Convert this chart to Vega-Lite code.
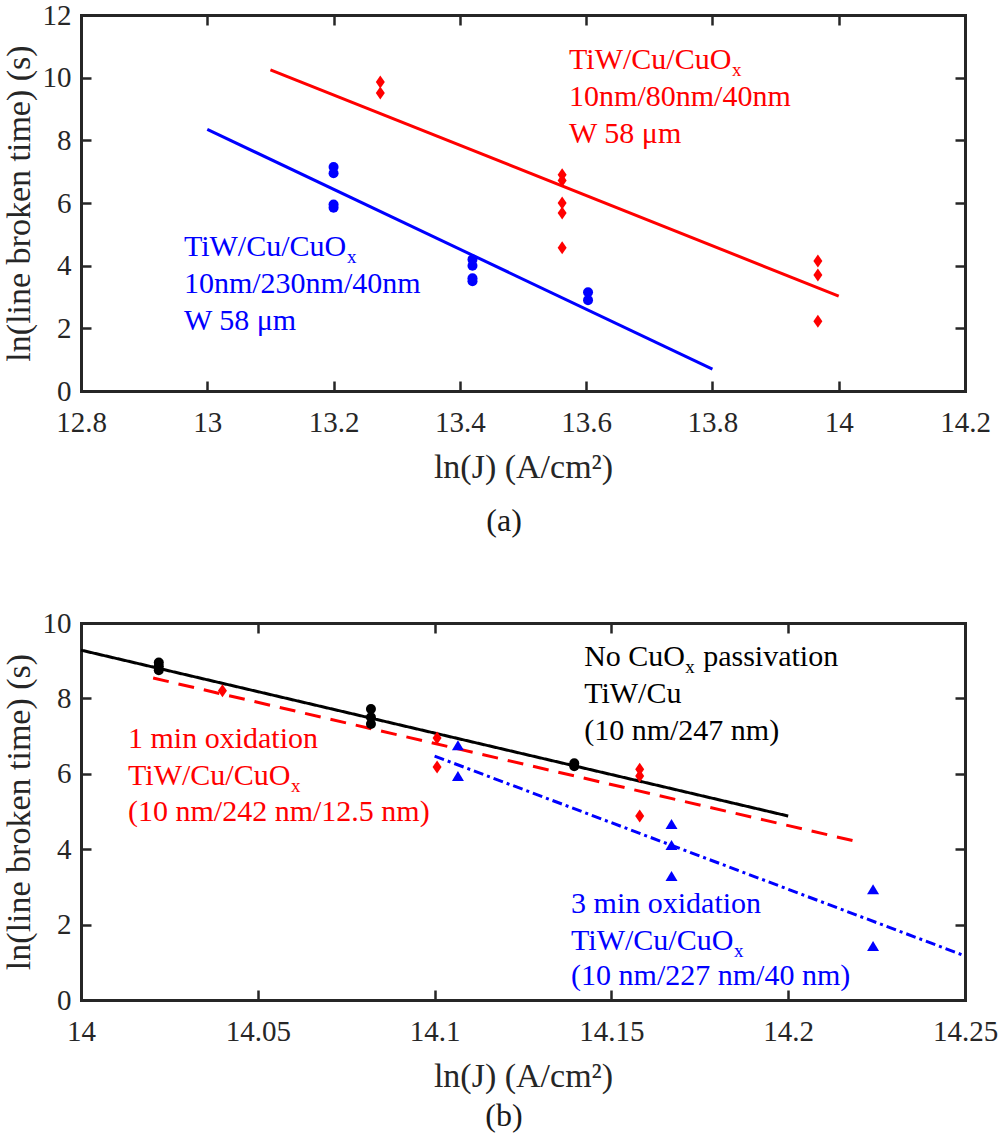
{
  "$schema": "https://vega.github.io/schema/vega-lite/v6.json",
  "padding": {"left": 2, "top": 1, "right": 5, "bottom": 5},
  "background": "white",
  "bounds": "flush",
  "spacing": 232,
  "resolve": {"scale": {"color": "independent", "shape": "independent", "strokeDash": "independent"}},
  "datasets": {
    "ptsA": [
      {"lnJ": 13.274, "lnT": 9.86, "film": "Cu 80 nm"},
      {"lnJ": 13.274, "lnT": 9.51, "film": "Cu 80 nm"},
      {"lnJ": 13.562, "lnT": 6.9, "film": "Cu 80 nm"},
      {"lnJ": 13.562, "lnT": 6.72, "film": "Cu 80 nm"},
      {"lnJ": 13.562, "lnT": 6.0, "film": "Cu 80 nm"},
      {"lnJ": 13.562, "lnT": 5.68, "film": "Cu 80 nm"},
      {"lnJ": 13.562, "lnT": 4.57, "film": "Cu 80 nm"},
      {"lnJ": 13.967, "lnT": 4.15, "film": "Cu 80 nm"},
      {"lnJ": 13.967, "lnT": 3.7, "film": "Cu 80 nm"},
      {"lnJ": 13.967, "lnT": 2.23, "film": "Cu 80 nm"},
      {"lnJ": 13.2, "lnT": 7.15, "film": "Cu 230 nm"},
      {"lnJ": 13.2, "lnT": 6.95, "film": "Cu 230 nm"},
      {"lnJ": 13.2, "lnT": 5.95, "film": "Cu 230 nm"},
      {"lnJ": 13.2, "lnT": 5.85, "film": "Cu 230 nm"},
      {"lnJ": 13.42, "lnT": 4.2, "film": "Cu 230 nm"},
      {"lnJ": 13.42, "lnT": 4.0, "film": "Cu 230 nm"},
      {"lnJ": 13.42, "lnT": 3.6, "film": "Cu 230 nm"},
      {"lnJ": 13.42, "lnT": 3.5, "film": "Cu 230 nm"},
      {"lnJ": 13.603, "lnT": 3.15, "film": "Cu 230 nm"},
      {"lnJ": 13.603, "lnT": 2.9, "film": "Cu 230 nm"}
    ],
    "fitA": [
      {"lnJ": 13.1, "lnT": 10.25, "film": "Cu 80 nm"},
      {"lnJ": 14.0, "lnT": 3.03, "film": "Cu 80 nm"},
      {"lnJ": 13.0, "lnT": 8.35, "film": "Cu 230 nm"},
      {"lnJ": 13.8, "lnT": 0.7, "film": "Cu 230 nm"}
    ],
    "ptsB": [
      {"lnJ": 14.022, "lnT": 8.95, "film": "no passivation"},
      {"lnJ": 14.022, "lnT": 8.85, "film": "no passivation"},
      {"lnJ": 14.022, "lnT": 8.75, "film": "no passivation"},
      {"lnJ": 14.082, "lnT": 7.72, "film": "no passivation"},
      {"lnJ": 14.082, "lnT": 7.5, "film": "no passivation"},
      {"lnJ": 14.082, "lnT": 7.32, "film": "no passivation"},
      {"lnJ": 14.1395, "lnT": 6.28, "film": "no passivation"},
      {"lnJ": 14.1395, "lnT": 6.2, "film": "no passivation"},
      {"lnJ": 14.04, "lnT": 8.2, "film": "1 min oxidation"},
      {"lnJ": 14.1007, "lnT": 6.95, "film": "1 min oxidation"},
      {"lnJ": 14.1007, "lnT": 6.18, "film": "1 min oxidation"},
      {"lnJ": 14.158, "lnT": 6.12, "film": "1 min oxidation"},
      {"lnJ": 14.158, "lnT": 5.94, "film": "1 min oxidation"},
      {"lnJ": 14.158, "lnT": 4.88, "film": "1 min oxidation"},
      {"lnJ": 14.1066, "lnT": 6.76, "film": "3 min oxidation"},
      {"lnJ": 14.1066, "lnT": 5.94, "film": "3 min oxidation"},
      {"lnJ": 14.167, "lnT": 4.67, "film": "3 min oxidation"},
      {"lnJ": 14.167, "lnT": 4.11, "film": "3 min oxidation"},
      {"lnJ": 14.167, "lnT": 3.29, "film": "3 min oxidation"},
      {"lnJ": 14.224, "lnT": 2.94, "film": "3 min oxidation"},
      {"lnJ": 14.224, "lnT": 1.43, "film": "3 min oxidation"}
    ],
    "fitB": [
      {"lnJ": 14.0, "lnT": 9.28, "film": "no passivation"},
      {"lnJ": 14.2, "lnT": 4.88, "film": "no passivation"},
      {"lnJ": 14.0204, "lnT": 8.54, "film": "1 min oxidation"},
      {"lnJ": 14.22, "lnT": 4.19, "film": "1 min oxidation"},
      {"lnJ": 14.1, "lnT": 6.47, "film": "3 min oxidation"},
      {"lnJ": 14.25, "lnT": 1.17, "film": "3 min oxidation"}
    ]
  },
  "config": {
    "font": "Liberation Serif",
    "view": {"stroke": null},
    "axis": {
      "grid": false,
      "domainColor": "#262626",
      "domainWidth": 3,
      "domainCap": "square",
      "tickColor": "#262626",
      "tickWidth": 2.5,
      "tickSize": -10,
      "labelFont": "Liberation Serif",
      "labelFontSize": 29,
      "labelColor": "#262626",
      "labelOverlap": false,
      "labelFlush": false,
      "titleFont": "Liberation Serif",
      "titleFontSize": 34,
      "titleFontWeight": "normal",
      "titleColor": "#262626"
    },
    "axisX": {"labelPadding": 27, "titlePadding": 13},
    "axisY": {"labelPadding": 20, "titlePadding": 6},
    "text": {"font": "Liberation Serif", "fontSize": 30, "align": "left", "baseline": "alphabetic", "lineHeight": 37}
  },
  "vconcat": [
    {
      "width": 884,
      "height": 376,
      "layer": [
        {
          "data": {"name": "fitA"},
          "mark": {"type": "line", "strokeWidth": 3},
          "encoding": {
            "x": {"field": "lnJ", "type": "quantitative", "scale": {"domain": [12.8, 14.2], "nice": false, "zero": false},
                  "axis": {"orient": "top", "labels": false, "title": null, "values": [12.8, 13, 13.2, 13.4, 13.6, 13.8, 14, 14.2]}},
            "y": {"field": "lnT", "type": "quantitative", "scale": {"domain": [0, 12], "nice": false, "zero": false},
                  "axis": {"orient": "right", "labels": false, "title": null, "values": [0, 2, 4, 6, 8, 10, 12]}},
            "color": {"field": "film", "type": "nominal", "scale": {"domain": ["Cu 80 nm", "Cu 230 nm"], "range": ["#ff0000", "#0000ff"]}, "legend": null}
          }
        },
        {
          "data": {"name": "ptsA"},
          "mark": {"type": "point", "filled": true, "opacity": 1, "size": 100},
          "encoding": {
            "x": {"field": "lnJ", "type": "quantitative", "scale": {"domain": [12.8, 14.2], "nice": false, "zero": false},
                  "axis": {"orient": "bottom", "title": "ln(J) (A/cm²)", "format": "~g", "values": [12.8, 13, 13.2, 13.4, 13.6, 13.8, 14, 14.2]}},
            "y": {"field": "lnT", "type": "quantitative", "scale": {"domain": [0, 12], "nice": false, "zero": false},
                  "axis": {"orient": "left", "title": "ln(line broken time) (s)", "format": "d", "values": [0, 2, 4, 6, 8, 10, 12]}},
            "color": {"field": "film", "type": "nominal", "scale": {"domain": ["Cu 80 nm", "Cu 230 nm"], "range": ["#ff0000", "#0000ff"]}, "legend": null},
            "shape": {"field": "film", "type": "nominal", "scale": {"domain": ["Cu 80 nm", "Cu 230 nm"], "range": ["M0,-1.3L0.9,0L0,1.3L-0.9,0Z", "circle"]}, "legend": null}
          }
        },
        {
          "data": {"values": [{}]},
          "mark": {"type": "text", "text": "TiW/Cu/CuO", "color": "#ff0000"},
          "encoding": {
            "x": {"datum": 13.573, "type": "quantitative", "scale": {"domain": [12.8, 14.2]}, "axis": null},
            "y": {"datum": 10.28, "type": "quantitative", "scale": {"domain": [0, 12]}, "axis": null}
          }
        },
        {
          "data": {"values": [{}]},
          "mark": {"type": "text", "text": "x", "color": "#ff0000", "fontSize": 19, "dx": 163, "dy": 7},
          "encoding": {
            "x": {"datum": 13.573, "type": "quantitative", "scale": {"domain": [12.8, 14.2]}, "axis": null},
            "y": {"datum": 10.28, "type": "quantitative", "scale": {"domain": [0, 12]}, "axis": null}
          }
        },
        {
          "data": {"values": [{}]},
          "mark": {"type": "text", "text": ["10nm/80nm/40nm", "W 58 μm"], "color": "#ff0000"},
          "encoding": {
            "x": {"datum": 13.573, "type": "quantitative", "scale": {"domain": [12.8, 14.2]}, "axis": null},
            "y": {"datum": 9.1, "type": "quantitative", "scale": {"domain": [0, 12]}, "axis": null}
          }
        },
        {
          "data": {"values": [{}]},
          "mark": {"type": "text", "text": "TiW/Cu/CuO", "color": "#0000ff"},
          "encoding": {
            "x": {"datum": 12.963, "type": "quantitative", "scale": {"domain": [12.8, 14.2]}, "axis": null},
            "y": {"datum": 4.31, "type": "quantitative", "scale": {"domain": [0, 12]}, "axis": null}
          }
        },
        {
          "data": {"values": [{}]},
          "mark": {"type": "text", "text": "x", "color": "#0000ff", "fontSize": 19, "dx": 163, "dy": 7},
          "encoding": {
            "x": {"datum": 12.963, "type": "quantitative", "scale": {"domain": [12.8, 14.2]}, "axis": null},
            "y": {"datum": 4.31, "type": "quantitative", "scale": {"domain": [0, 12]}, "axis": null}
          }
        },
        {
          "data": {"values": [{}]},
          "mark": {"type": "text", "text": ["10nm/230nm/40nm", "W 58 μm"], "color": "#0000ff"},
          "encoding": {
            "x": {"datum": 12.963, "type": "quantitative", "scale": {"domain": [12.8, 14.2]}, "axis": null},
            "y": {"datum": 3.13, "type": "quantitative", "scale": {"domain": [0, 12]}, "axis": null}
          }
        },
        {
          "data": {"values": [{}]},
          "mark": {"type": "text", "text": "(a)", "color": "#1a1a1a", "fontSize": 32, "align": "center", "baseline": "middle"},
          "encoding": {
            "x": {"datum": 13.47, "type": "quantitative", "scale": {"domain": [12.8, 14.2]}, "axis": null},
            "y": {"datum": -4.15, "type": "quantitative", "scale": {"domain": [0, 12]}, "axis": null}
          }
        }
      ],
      "resolve": {"axis": {"x": "independent", "y": "independent"}}
    },
    {
      "width": 884,
      "height": 377,
      "layer": [
        {
          "data": {"name": "fitB"},
          "mark": {"type": "line", "strokeWidth": 3},
          "encoding": {
            "x": {"field": "lnJ", "type": "quantitative", "scale": {"domain": [14, 14.25], "nice": false, "zero": false},
                  "axis": {"orient": "top", "labels": false, "title": null, "values": [14, 14.05, 14.1, 14.15, 14.2, 14.25]}},
            "y": {"field": "lnT", "type": "quantitative", "scale": {"domain": [0, 10], "nice": false, "zero": false},
                  "axis": {"orient": "right", "labels": false, "title": null, "values": [0, 2, 4, 6, 8, 10]}},
            "color": {"field": "film", "type": "nominal", "scale": {"domain": ["no passivation", "1 min oxidation", "3 min oxidation"], "range": ["#000000", "#ff0000", "#0000ff"]}, "legend": null},
            "strokeDash": {"field": "film", "type": "nominal", "scale": {"domain": ["no passivation", "1 min oxidation", "3 min oxidation"], "range": [[1, 0], [16, 10], [10, 4, 3, 4]]}, "legend": null}
          }
        },
        {
          "data": {"name": "ptsB"},
          "mark": {"type": "point", "filled": true, "opacity": 1, "size": 100},
          "encoding": {
            "x": {"field": "lnJ", "type": "quantitative", "scale": {"domain": [14, 14.25], "nice": false, "zero": false},
                  "axis": {"orient": "bottom", "title": "ln(J) (A/cm²)", "format": "~g", "values": [14, 14.05, 14.1, 14.15, 14.2, 14.25]}},
            "y": {"field": "lnT", "type": "quantitative", "scale": {"domain": [0, 10], "nice": false, "zero": false},
                  "axis": {"orient": "left", "title": "ln(line broken time) (s)", "format": "d", "values": [0, 2, 4, 6, 8, 10]}},
            "color": {"field": "film", "type": "nominal", "scale": {"domain": ["no passivation", "1 min oxidation", "3 min oxidation"], "range": ["#000000", "#ff0000", "#0000ff"]}, "legend": null},
            "shape": {"field": "film", "type": "nominal", "scale": {"domain": ["no passivation", "1 min oxidation", "3 min oxidation"], "range": ["circle", "M0,-1.3L0.9,0L0,1.3L-0.9,0Z", "M0,-1L1.2,1L-1.2,1Z"]}, "legend": null}
          }
        },
        {
          "data": {"values": [{}]},
          "mark": {"type": "text", "text": "No CuO", "color": "#000000"},
          "encoding": {
            "x": {"datum": 14.1423, "type": "quantitative", "scale": {"domain": [14, 14.25]}, "axis": null},
            "y": {"datum": 8.86, "type": "quantitative", "scale": {"domain": [0, 10]}, "axis": null}
          }
        },
        {
          "data": {"values": [{}]},
          "mark": {"type": "text", "text": "x", "color": "#000000", "fontSize": 19, "dx": 101, "dy": 7},
          "encoding": {
            "x": {"datum": 14.1423, "type": "quantitative", "scale": {"domain": [14, 14.25]}, "axis": null},
            "y": {"datum": 8.86, "type": "quantitative", "scale": {"domain": [0, 10]}, "axis": null}
          }
        },
        {
          "data": {"values": [{}]},
          "mark": {"type": "text", "text": "passivation", "color": "#000000", "dx": 119},
          "encoding": {
            "x": {"datum": 14.1423, "type": "quantitative", "scale": {"domain": [14, 14.25]}, "axis": null},
            "y": {"datum": 8.86, "type": "quantitative", "scale": {"domain": [0, 10]}, "axis": null}
          }
        },
        {
          "data": {"values": [{}]},
          "mark": {"type": "text", "text": ["TiW/Cu", "(10 nm/247 nm)"], "color": "#000000"},
          "encoding": {
            "x": {"datum": 14.1423, "type": "quantitative", "scale": {"domain": [14, 14.25]}, "axis": null},
            "y": {"datum": 7.88, "type": "quantitative", "scale": {"domain": [0, 10]}, "axis": null}
          }
        },
        {
          "data": {"values": [{}]},
          "mark": {"type": "text", "text": ["1 min oxidation", "TiW/Cu/CuO"], "color": "#ff0000"},
          "encoding": {
            "x": {"datum": 14.0133, "type": "quantitative", "scale": {"domain": [14, 14.25]}, "axis": null},
            "y": {"datum": 6.68, "type": "quantitative", "scale": {"domain": [0, 10]}, "axis": null}
          }
        },
        {
          "data": {"values": [{}]},
          "mark": {"type": "text", "text": "x", "color": "#ff0000", "fontSize": 19, "dx": 163, "dy": 7},
          "encoding": {
            "x": {"datum": 14.0133, "type": "quantitative", "scale": {"domain": [14, 14.25]}, "axis": null},
            "y": {"datum": 5.7, "type": "quantitative", "scale": {"domain": [0, 10]}, "axis": null}
          }
        },
        {
          "data": {"values": [{}]},
          "mark": {"type": "text", "text": "(10 nm/242 nm/12.5 nm)", "color": "#ff0000"},
          "encoding": {
            "x": {"datum": 14.0133, "type": "quantitative", "scale": {"domain": [14, 14.25]}, "axis": null},
            "y": {"datum": 4.75, "type": "quantitative", "scale": {"domain": [0, 10]}, "axis": null}
          }
        },
        {
          "data": {"values": [{}]},
          "mark": {"type": "text", "text": ["3 min oxidation", "TiW/Cu/CuO"], "color": "#0000ff"},
          "encoding": {
            "x": {"datum": 14.1386, "type": "quantitative", "scale": {"domain": [14, 14.25]}, "axis": null},
            "y": {"datum": 2.31, "type": "quantitative", "scale": {"domain": [0, 10]}, "axis": null}
          }
        },
        {
          "data": {"values": [{}]},
          "mark": {"type": "text", "text": "x", "color": "#0000ff", "fontSize": 19, "dx": 163, "dy": 7},
          "encoding": {
            "x": {"datum": 14.1386, "type": "quantitative", "scale": {"domain": [14, 14.25]}, "axis": null},
            "y": {"datum": 1.33, "type": "quantitative", "scale": {"domain": [0, 10]}, "axis": null}
          }
        },
        {
          "data": {"values": [{}]},
          "mark": {"type": "text", "text": "(10 nm/227 nm/40 nm)", "color": "#0000ff"},
          "encoding": {
            "x": {"datum": 14.1386, "type": "quantitative", "scale": {"domain": [14, 14.25]}, "axis": null},
            "y": {"datum": 0.4, "type": "quantitative", "scale": {"domain": [0, 10]}, "axis": null}
          }
        },
        {
          "data": {"values": [{}]},
          "mark": {"type": "text", "text": "(b)", "color": "#1a1a1a", "fontSize": 32, "align": "center", "baseline": "middle"},
          "encoding": {
            "x": {"datum": 14.1196, "type": "quantitative", "scale": {"domain": [14, 14.25]}, "axis": null},
            "y": {"datum": -3.08, "type": "quantitative", "scale": {"domain": [0, 10]}, "axis": null}
          }
        }
      ],
      "resolve": {"axis": {"x": "independent", "y": "independent"}}
    }
  ]
}
